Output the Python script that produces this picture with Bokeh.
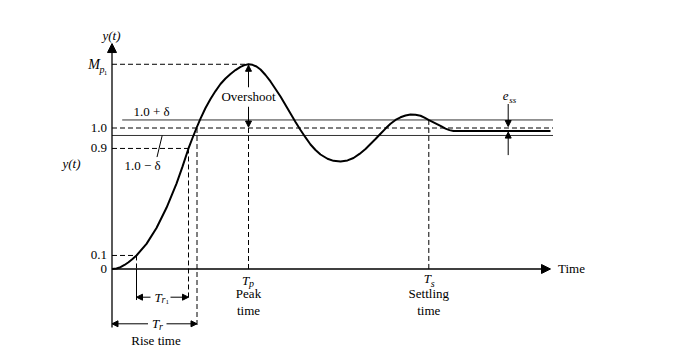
from bokeh.plotting import figure
from bokeh.models import Range1d, Arrow, NormalHead
from bokeh.core.properties import value
from bokeh.embed import file_html
from bokeh.resources import INLINE

# ---- data (schematic units) ----
t_curve = [0.0, 0.045, 0.085, 0.125, 0.165, 0.205, 0.245, 0.345, 0.445, 0.545, 0.645,
           0.705, 0.765, 0.805, 0.845, 0.885, 0.935, 0.985, 1.035, 1.085, 1.135, 1.185,
           1.235, 1.285, 1.325, 1.365, 1.405, 1.445, 1.485, 1.535, 1.585, 1.635, 1.685,
           1.735, 1.785, 1.835, 1.885, 1.935, 1.985, 2.035, 2.085, 2.155, 2.215, 2.285,
           2.355, 2.415, 2.475, 2.535, 2.585, 2.635, 2.685, 2.735, 2.785, 2.835, 2.885,
           2.935, 2.985, 3.035, 3.085, 3.125, 3.165, 3.205, 3.255, 3.295, 3.335, 3.375,
           3.415, 3.465, 4.385]
y_curve = [0.0, 0.0035, 0.0128, 0.0284, 0.0482, 0.0709, 0.0957, 0.178, 0.291, 0.434, 0.606,
           0.726, 0.855, 0.929, 1.0, 1.067, 1.142, 1.206, 1.262, 1.312, 1.351, 1.383,
           1.411, 1.433, 1.446, 1.452, 1.448, 1.436, 1.415, 1.376, 1.330, 1.277, 1.223,
           1.163, 1.103, 1.043, 0.986, 0.933, 0.883, 0.844, 0.812, 0.782, 0.767, 0.762,
           0.770, 0.787, 0.816, 0.851, 0.887, 0.922, 0.959, 0.996, 1.030, 1.057, 1.076,
           1.089, 1.096, 1.094, 1.087, 1.073, 1.057, 1.043, 1.026, 1.011, 0.996, 0.985,
           0.979, 0.978, 0.978]

tick_vals = [0.0, 0.096, 0.855, 1.0]
tick_labels = ["0", "0.1", "0.9", "1.0"]
Mp = 1.452
y_hi = 1.057      # 1.0 + delta
y_lo = 0.947      # 1.0 - delta
y_final = 0.978   # steady-state value
T10 = 0.245       # time at 0.1
T90 = 0.765       # time at 0.9
Tr = 0.850        # time at 1.0 (rise time)
Tp = 1.365        # peak time
Ts = 3.168        # settling time
t_end = 4.39      # end of drawn lines
t_ess = 3.962     # position of e_ss arrows

# ---- figure ----
W, H = 695, 354
X0, X1 = -1.115, 5.835
Y0, Y1 = -0.6064, 1.9043
DX = (X1 - X0) / W   # data per pixel (x)
DY = (Y1 - Y0) / H   # data per pixel (y)

p = figure(width=W, height=H, output_backend="svg", toolbar_location=None,
           x_range=Range1d(X0, X1), y_range=Range1d(Y0, Y1),
           x_axis_location=None, y_axis_location=None, min_border=0)
p.outline_line_color = None
p.xgrid.visible = False
p.ygrid.visible = False
p.background_fill_color = "white"
p.border_fill_color = "white"

FONT = value("Liberation Serif")
DASH = "5 3"


def txt(x, y, s, size=13, align="center", style="normal", dx=0, dy=0):
    p.text(x=[x], y=[y], text=[s], x_offset=dx, y_offset=dy, text_font=FONT,
           text_font_size=f"{size}px", text_align=align, text_baseline="middle",
           text_font_style=style, text_color="black")


def arrow(xs, ys, xe, ye, size=7, lw=1.0):
    p.add_layout(Arrow(x_start=xs, y_start=ys, x_end=xe, y_end=ye, line_width=lw,
                       line_color="black",
                       end=NormalHead(size=size, fill_color="black", line_color="black",
                                      line_width=1)))


# threshold lines
p.line([T10 - 0.143, t_end + 0.02], [y_hi, y_hi], line_color="#333333", line_width=1)
p.line([0, t_end + 0.02], [y_lo, y_lo], line_color="#333333", line_width=1)
p.line([0, t_end + 0.02], [1.0, 1.0], line_color="black", line_width=1, line_dash=DASH)

# dashed guides
p.line([0, Tp], [Mp, Mp], line_color="black", line_width=1, line_dash=DASH)
p.line([0, T90], [tick_vals[2], tick_vals[2]], line_color="black", line_width=1, line_dash=DASH)
p.line([0, T10], [tick_vals[1], tick_vals[1]], line_color="black", line_width=1, line_dash=DASH)
p.line([T10, T10], [tick_vals[1], 0], line_color="black", line_width=1, line_dash=DASH)
p.line([T10, T10], [0, -0.22], line_color="black", line_width=1)
p.line([T90, T90], [tick_vals[2], -0.22], line_color="black", line_width=1, line_dash=DASH)
p.line([Tr, Tr], [1.0, -0.415], line_color="black", line_width=1, line_dash=DASH)
p.line([Tp, Tp], [1.0, 0], line_color="black", line_width=1, line_dash=DASH)
p.line([Ts, Ts], [y_hi, 0], line_color="black", line_width=1, line_dash=DASH)

# leader line for 1.0 - delta
p.line([0.45, 0.502], [0.794, y_lo], line_color="black", line_width=1)

# response curve
p.line(t_curve, y_curve, line_color="black", line_width=2, line_join="round")

# axes
p.line([0, 0], [-0.415, 0], line_color="black", line_width=1.3)
arrow(0, 0, 0, 1.599, size=9, lw=1.3)
arrow(0, 0, t_end - 0.005, 0, size=9, lw=1.3)

# overshoot arrows
arrow(Tp, Mp - 23 * DY, Tp, Mp - 1 * DY, size=6)
arrow(Tp, Mp - 42.5 * DY, Tp, 1.0 + 1 * DY, size=6)

# e_ss arrows
arrow(t_ess, 1.0 + 24 * DY, t_ess, 1.0 + 1.5 * DY, size=6)
arrow(t_ess, y_final - 24 * DY, t_ess, y_final - 1 * DY, size=6)

# rise-time brackets
y_tr1 = -28.2 * DY
y_tr = -54.8 * DY
arrow(T10 + 14 * DX, y_tr1, T10, y_tr1, size=6)
arrow(T10 + 34 * DX, y_tr1, T90, y_tr1, size=6)
arrow(36 * DX, y_tr, 0, y_tr, size=6)
arrow(54.5 * DX, y_tr, Tr, y_tr, size=6)

# tick labels
for v, s in zip(tick_vals, tick_labels):
    txt(0, v, s, size=13, align="right", dx=-5)
txt(0, Mp, "M", size=14, align="right", style="italic", dx=-12)
txt(0, Mp, "p", size=10, align="left", style="italic", dx=-12.5, dy=5)
txt(0, Mp, "1", size=7, align="left", dx=-8.2, dy=8.5)

# axis titles
txt(0, 1.656, "y(t)", size=13, style="italic", dx=-0.5)
txt(-0.405, 0.748, "y(t)", size=13, style="italic")
txt(t_end, 0, "Time", size=13, align="left", dx=7)

# threshold labels
txt(0.395, 1.117, "1.0 + δ", size=13)
txt(0.305, 0.734, "1.0 − δ", size=13)
txt(Tp, 1.223, "Overshoot", size=13)
txt(t_ess, 1.23, "e", size=13, style="italic", dx=-2.5)
txt(t_ess, 1.23, "ss", size=9, align="left", style="italic", dx=1, dy=4)

# time labels
txt(Tp, 0, "T", size=13, style="italic", dx=-3, dy=11.5)
txt(Tp, 0, "p", size=10, align="left", style="italic", dx=0.5, dy=15)
txt(Tp, 0, "Peak", size=13, dy=25)
txt(Tp, 0, "time", size=13, dy=42)
txt(Ts, 0, "T", size=13, style="italic", dx=-1.5, dy=10)
txt(Ts, 0, "s", size=10, align="left", style="italic", dx=2, dy=14.5)
txt(Ts, 0, "Settling", size=13, dy=25)
txt(Ts, 0, "time", size=13, dy=41.5)
mid1 = (T10 + T90) / 2
txt(mid1, y_tr1, "T", size=13, style="italic", dx=-4.5)
txt(mid1, y_tr1, "r", size=10, align="left", style="italic", dx=-1, dy=2.5)
txt(mid1, y_tr1, "1", size=7, align="left", dx=3, dy=5)
mid2 = Tr / 2
txt(mid2, y_tr, "T", size=13, style="italic", dx=1)
txt(mid2, y_tr, "r", size=10, align="left", style="italic", dx=4.5, dy=3)
txt(mid2, 0, "Rise time", size=13, dx=1.5, dy=71.5)

open("out.html", "w").write(file_html(p, INLINE))
